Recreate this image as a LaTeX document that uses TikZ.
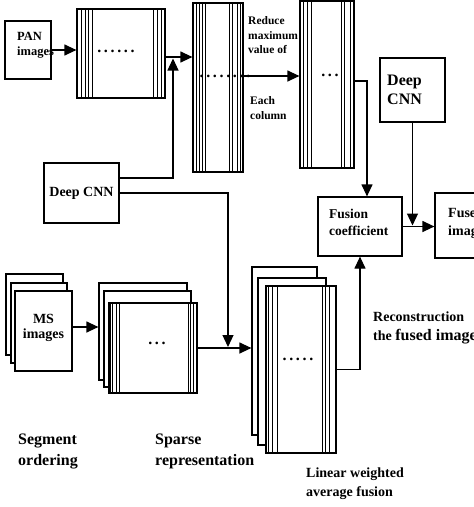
\documentclass[tikz,border=0pt]{standalone}
\usepackage{fontspec}
\setmainfont{Liberation Serif}
\usetikzlibrary{arrows.meta, positioning, calc}

\tikzset{
  blk/.style={draw, line width=1.2pt, fill=white, inner sep=0pt, align=center},
  sheet/.style={draw, line width=0.8pt},
  wire/.style={line width=1.2pt},
  arr/.style={wire, -{Triangle[length=12pt, width=11pt]}},
  lbl/.style={align=left, anchor=west, inner sep=0pt},
  lblS/.style={lbl, font=\bfseries\fontsize{11.5}{14.5}\selectfont},
  lblM/.style={lbl, font=\bfseries\fontsize{14}{19}\selectfont},
  lblL/.style={lbl, font=\bfseries\fontsize{16}{21}\selectfont},
  dotrow/.style={font=\bfseries\fontsize{16}{16}\selectfont, inner sep=0pt},
}

\begin{document}
\begin{tikzpicture}[x=1pt, y=-1pt]
    \useasboundingbox (0,0) rectangle (474,507);
    \clip (0,0) rectangle (474,507);
    % PAN branch
    \node[blk, minimum width=46pt, minimum height=58pt] (pan) at (28,50) {};
    \node[lbl, font=\bfseries\fontsize{12.5}{15}\selectfont] (pantxt) at (17,45.5) {PAN\\images};
    \node[blk, minimum width=88pt, minimum height=89pt] (b1) at (121,53.5) {};
    \foreach \d in {5,9,12,16} \draw[sheet] ([xshift=\d pt]b1.north west) -- ([xshift=\d pt]b1.south west);
    \foreach \d in {4,8,12} \draw[sheet] ([xshift=-\d pt]b1.north east) -- ([xshift=-\d pt]b1.south east);
    \node[dotrow] (dots1) at (116,51) {.\,.\,.\,.\,.\,.};
    \node[blk, minimum width=50pt, minimum height=169pt] (b2) at (218,87.5) {};
    \foreach \d in {4,7,10,13} \draw[sheet] ([xshift=\d pt]b2.north west) -- ([xshift=\d pt]b2.south west);
    \foreach \d in {3,6,11,14} \draw[sheet] ([xshift=-\d pt]b2.north east) -- ([xshift=-\d pt]b2.south east);
    \node[dotrow] (dots2) at (225,76) {.\,.\,.\,.\,.\,.\,.\,.};
    \node[blk, minimum width=54pt, minimum height=167pt] (b3) at (327,84.5) {};
    \foreach \d in {4,8,12} \draw[sheet] ([xshift=\d pt]b3.north west) -- ([xshift=\d pt]b3.south west);
    \foreach \d in {4,10,13} \draw[sheet] ([xshift=-\d pt]b3.north east) -- ([xshift=-\d pt]b3.south east);
    \node[dotrow] (dots3) at (330,75) {.\,.\,.};
    \node[lblS] (reduce) at (248,35.5) {Reduce\\maximum\\value of};
    \node[lblS] (eachcol) at (250,108) {Each\\column};
    % CNN boxes and fusion
    \node[blk, minimum width=75pt, minimum height=60pt, font=\bfseries\fontsize{14}{17}\selectfont] (cnn1) at (81.5,193) {Deep CNN};
    \node[blk, minimum width=65pt, minimum height=64pt] (cnn2) at (412.5,90) {};
    \node[lblL, font=\bfseries\fontsize{16}{19}\selectfont] (cnn2txt) at (387,89.5) {Deep\\CNN};
    \node[blk, minimum width=84pt, minimum height=59pt] (fus) at (360,226.5) {};
    \node[lbl, font=\bfseries\fontsize{13.5}{17}\selectfont] (fustxt) at (329,222.5) {Fusion\\coefficient};
    \node[blk, minimum width=95pt, minimum height=65pt] (fused) at (482.5,225.5) {};
    \node[lbl, font=\bfseries\fontsize{14}{18}\selectfont] (fusedtxt) at (448,223) {Fused\\image};
    % MS branch
    \node[blk, minimum width=57pt, minimum height=81pt] (ms3) at (34.5,314.5) {};
    \node[blk, minimum width=56pt, minimum height=80pt] (ms2) at (39,323) {};
    \node[blk, minimum width=57pt, minimum height=80pt] (ms) at (43.5,331) {};
    \node[font=\bfseries\fontsize{14}{15}\selectfont, align=center, inner sep=0pt] (mstxt) at (43.5,327.5) {MS\\images};
    \node[blk, minimum width=88pt, minimum height=97pt] (sp3) at (143,331.5) {};
    \node[blk, minimum width=87pt, minimum height=96pt] (sp2) at (147.5,339) {};
    \node[blk, minimum width=88pt, minimum height=90pt] (sp) at (153,348) {};
    \foreach \d in {2,4,8,11} \draw[sheet] ([xshift=\d pt]sp.north west) -- ([xshift=\d pt]sp.south west);
    \foreach \d in {4,7,9} \draw[sheet] ([xshift=-\d pt]sp.north east) -- ([xshift=-\d pt]sp.south east);
    \node[dotrow] (dots4) at (157,343) {.\,.\,.};
    \node[blk, minimum width=65pt, minimum height=168pt] (lin3) at (284.5,351) {};
    \node[blk, minimum width=68pt, minimum height=167pt] (lin2) at (292,361.5) {};
    \node[blk, minimum width=70pt, minimum height=167pt] (lin) at (301,369.5) {};
    \foreach \d in {3,7,12} \draw[sheet] ([xshift=\d pt]lin.north west) -- ([xshift=\d pt]lin.south west);
    \foreach \d in {7,11,14} \draw[sheet] ([xshift=-\d pt]lin.north east) -- ([xshift=-\d pt]lin.south east);
    \node[dotrow] (dots5) at (298,359) {.\,.\,.\,.\,.};
    % connectors
    \coordinate (r1) at ($(b1.east)+(0,3.5)$);
    \coordinate (r2) at ($(b2.east)+(0,-11.5)$);
    \coordinate (r3) at ($(b3.east)+(0,-3.5)$);
    \coordinate (r4) at ($(ms.east)+(0,-4)$);
    \coordinate (c1) at ($(cnn1.east)+(0,-15)$);
    \coordinate (j1) at (173,58.5);
    \coordinate (j2) at (228,347);
    \coordinate (j3) at (cnn2.south |- fus.east);
    \draw[arr] (pan.east) -- (pan.east -| b1.west);
    \draw[arr] (r1) -- (r1 -| b2.west);
    \draw[arr] (r2) -- (r2 -| b3.west);
    \draw[arr] (r3) -| ($(fus.north)+(7,0)$);
    \draw[arr] (c1) -| (j1);
    \draw[arr] (cnn1.east) -| (j2);
    \draw[arr] (cnn2.south) -- ($(j3)+(0,-1)$);
    \draw[arr] (fus.east) -- (fus.east -| fused.west);
    \draw[arr] (r4) -- (r4 -| sp3.west);
    \draw[arr] (sp.east) -- (sp.east -| lin3.west);
    \draw[arr] (lin.east) -| (fus.south);
    % captions
    \node[lblM] (recon) at (373,327.5) {Reconstruction\\the {\fontsize{16}{19}\selectfont fused image}};
    \node[lblL] (segord) at (18,451.5) {Segment\\ordering};
    \node[lblL] (sparse) at (155,451.5) {Sparse\\representation};
    \node[lblM] (linavg) at (306,483.5) {Linear weighted\\average fusion};
\end{tikzpicture}
\end{document}
